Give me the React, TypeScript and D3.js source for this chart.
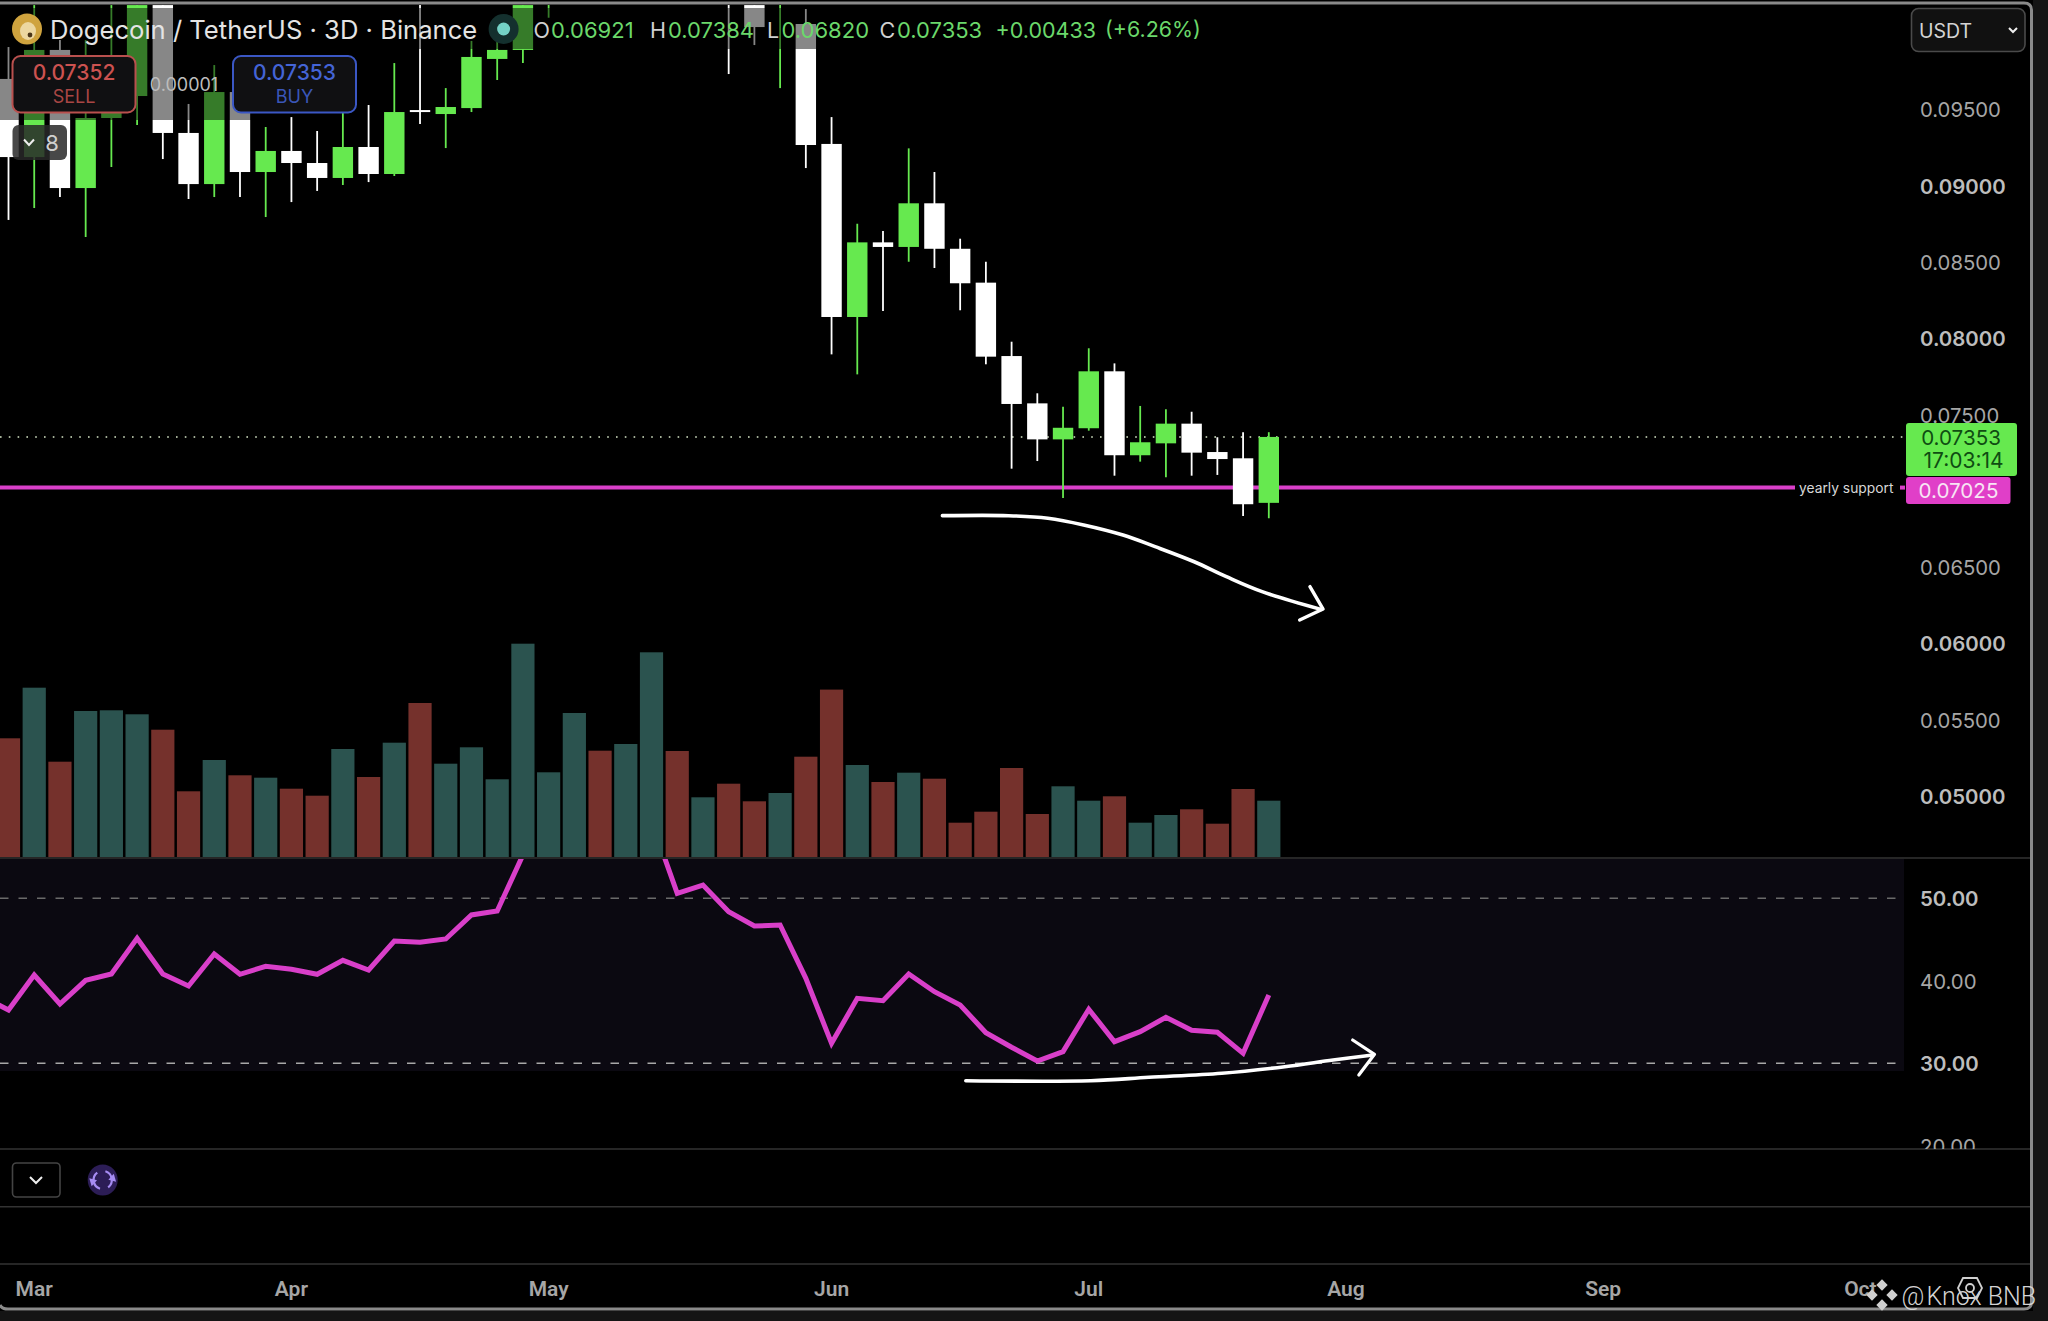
import * as d3 from 'd3';

import React, { useEffect, useRef } from 'react';

const WIDTH = 2048;
const HEIGHT = 1321;
const FONT = 'Inter, sans-serif';
const AXIS_FONT = 'Roboto, sans-serif';

// candles, in price, index 0 = first candle at the left edge (i 21-28 sit above the visible range)
const opens = [
  0.09699, 0.09187, 0.09889, 0.08984, 0.09443, 0.09587, 0.10183, 0.09345, 0.0901, 0.09613,
  0.09089, 0.09227, 0.09148, 0.0905, 0.09253, 0.09076, 0.09495, 0.09469, 0.09508, 0.0983,
  0.09889, 0.1025, 0.106, 0.11, 0.108, 0.11, 0.114, 0.111, 0.106, 0.10183,
  0.1035, 0.10059, 0.09273, 0.08139, 0.08628, 0.08598, 0.08884, 0.08586, 0.08364, 0.07883,
  0.07573, 0.07337, 0.0741, 0.07783, 0.07233, 0.07311, 0.0744, 0.07254, 0.07213, 0.06921,
];
const closes = [
  0.09187, 0.09889, 0.08984, 0.09443, 0.09626, 0.10183, 0.09345, 0.0901, 0.09613, 0.09089,
  0.09227, 0.09148, 0.0905, 0.09253, 0.09076, 0.09482, 0.09482, 0.09515, 0.09843, 0.09889,
  0.10183, 0.106, 0.11, 0.108, 0.11, 0.114, 0.111, 0.113, 0.1035, 0.10039,
  0.105, 0.09266, 0.08139, 0.08628, 0.08598, 0.08884, 0.08586, 0.0836, 0.07879, 0.07569,
  0.07337, 0.07413, 0.07783, 0.07233, 0.07318, 0.0744, 0.0725, 0.07208, 0.06912, 0.07353,
];
const highs = [
  0.09908, 0.10183, 0.09954, 0.09954, 0.10183, 0.10203, 0.10203, 0.09535, 0.0979, 0.09692,
  0.09384, 0.09449, 0.09358, 0.09476, 0.09528, 0.09803, 0.10183, 0.09639, 0.09948, 0.10085,
  0.10203, 0.108, 0.113, 0.112, 0.111, 0.116, 0.115, 0.115, 0.1075, 0.105,
  0.106, 0.10157, 0.09449, 0.0875, 0.08702, 0.09244, 0.09089, 0.08652, 0.08501, 0.07977,
  0.07639, 0.07551, 0.07934, 0.07835, 0.07556, 0.07534, 0.07518, 0.07351, 0.07383, 0.07384,
];
const lows = [
  0.08775, 0.08853, 0.08925, 0.08663, 0.09122, 0.09397, 0.09174, 0.08912, 0.08925, 0.08925,
  0.08794, 0.08892, 0.08965, 0.09004, 0.09023, 0.09063, 0.09404, 0.09246, 0.09482, 0.09692,
  0.09803, 0.101, 0.1045, 0.106, 0.106, 0.108, 0.108, 0.109, 0.09731, 0.09921,
  0.09639, 0.09115, 0.07894, 0.07763, 0.08178, 0.08501, 0.0846, 0.08183, 0.07829, 0.07145,
  0.07195, 0.06953, 0.07394, 0.07099, 0.07191, 0.07088, 0.07099, 0.07104, 0.06835, 0.0682,
];

const volumes = [
  118.7, 169.3, 95.3, 146, 146.7, 142.7, 127.3, 65.7, 97, 81.7,
  79.3, 68.3, 61.3, 108, 80, 114.3, 154, 93.3, 109.7, 77.7,
  213.3, 84.7, 144, 106.3, 113, 204.7, 106, 59.7, 73.3, 55.7,
  64, 100.3, 167.4, 92, 75, 84.3, 78.3, 34.3, 45.3, 89,
  43, 70.7, 56.3, 60.7, 34.3, 42, 47.7, 33.3, 68, 56.3,
];

// rsi[0] belongs to the candle just left of the frame (index -1)
const rsi = [
  38.07, 36.46, 40.7, 37.19, 40.06, 40.82, 45.15, 40.82, 39.37, 43.25, 40.79,
  41.76, 41.39, 40.79, 42.48, 41.31, 44.82, 44.67, 45.07, 47.98, 48.46,
  55.25, 58, 61, 60, 62, 59.37, 50.61, 51.61, 48.38, 46.64,
  46.76, 40.3, 32.42, 37.88, 37.59, 40.82, 38.68, 37.07, 33.71, 31.94,
  30.28, 31.41, 36.55, 32.62, 33.83, 35.58, 34, 33.76, 31.21, 38.28,
];

const priceTicks = [0.095, 0.09, 0.085, 0.08, 0.075, 0.07, 0.065, 0.06, 0.055, 0.05];
const boldPriceTicks = [0.09, 0.08, 0.06, 0.05];
const rsiTicks = [50, 40, 30, 20];
const boldRsiTicks = [50, 30];
const monthNames = ['Mar', 'Apr', 'May', 'Jun', 'Jul', 'Aug', 'Sep', 'Oct'];
const monthIndexes = [1, 11, 21, 32, 42, 52, 62, 72];

const lastPrice = 0.07353;
const supportPrice = 0.07025;

// hand drawn arrows: [candle index, price] and [candle index, rsi]
const priceArrow: [number, number][] = [
  [36.31, 0.06837], [38.88, 0.06837], [40.41, 0.0682], [41.8, 0.06776], [43.33, 0.0671],
  [44.58, 0.06634], [46.1, 0.06535], [47.35, 0.06437], [48.74, 0.06339], [51.03, 0.06223],
];
const priceArrowHead: [number, number][] = [[50.6, 0.06372], [51.11, 0.06225], [50.2, 0.06153]];
const rsiArrow: [number, number][] = [
  [37.22, 27.89], [42.08, 27.89], [44.34, 28.3], [47.17, 28.79], [49.62, 29.59], [51.5, 30.4], [53.05, 31.01],
];
const rsiArrowHead: [number, number][] = [[52.26, 32.82], [53.11, 31.09], [52.5, 28.58]];

const GREEN = '#66e94f';
const TEAL = '#2b534f';
const RED = '#75312c';
const PINK = '#d93fc9';

type Sel = d3.Selection<SVGGElement, unknown, null, undefined>;

const label = (
  g: Sel,
  x: number,
  y: number,
  text: string,
  fill: string,
  size: number,
  anchor = 'start',
  weight = 400,
) =>
  g
    .append('text')
    .attr('x', x)
    .attr('y', y)
    .attr('dy', '0.35em')
    .attr('fill', fill)
    .attr('font-size', size)
    .attr('font-weight', weight)
    .attr('text-anchor', anchor)
    .text(text);

export default function App() {
  const ref = useRef<SVGSVGElement>(null);

  useEffect(() => {
    const svg = d3.select(ref.current);
    svg.selectAll('*').remove();
    const root = svg.append('g').attr('font-family', FONT) as unknown as Sel;

    const x = d3.scaleLinear().domain([0, 49]).range([8.5, 1268.8]);
    const y = d3.scaleLinear().domain([0.05, 0.095]).range([796, 109.3]);
    const yVol = d3.scaleLinear().domain([0, 213.3]).range([857, 643.7]);
    const yRsi = d3.scaleLinear().domain([30, 50]).range([1063.3, 898.3]);

    const defs = svg.append('defs');
    defs.append('clipPath').attr('id', 'main').append('rect').attr('x', 0).attr('y', 5).attr('width', 1904).attr('height', 853);
    defs.append('clipPath').attr('id', 'pane').append('rect').attr('x', 0).attr('y', 859).attr('width', 1904).attr('height', 290);
    defs.append('clipPath').attr('id', 'rsiaxis').append('rect').attr('x', 1904).attr('y', 859).attr('width', 128).attr('height', 290);

    root.append('rect').attr('width', WIDTH).attr('height', HEIGHT).attr('fill', '#000');

    // rsi pane background
    root.append('rect').attr('x', 0).attr('y', 859).attr('width', 1904).attr('height', 212).attr('fill', '#0b0911');

    // volume
    const idx = d3.range(volumes.length);
    root
      .append('g')
      .selectAll('rect')
      .data(idx)
      .join('rect')
      .attr('x', (i) => x(i) - 11.6)
      .attr('width', 23.2)
      .attr('y', (i) => yVol(volumes[i]))
      .attr('height', (i) => yVol(0) - yVol(volumes[i]))
      .attr('fill', (i) => (closes[i] >= opens[i] ? TEAL : RED));

    // support and last price lines sit behind the candles
    root
      .append('line')
      .attr('x1', 0)
      .attr('x2', 1795)
      .attr('y1', y(supportPrice))
      .attr('y2', y(supportPrice))
      .attr('stroke', PINK)
      .attr('stroke-width', 4)
      .attr('transform', 'translate(0,0.6)');
    root
      .append('line')
      .attr('x1', 1900)
      .attr('x2', 1905)
      .attr('y1', y(supportPrice))
      .attr('y2', y(supportPrice))
      .attr('stroke', PINK)
      .attr('stroke-width', 4)
      .attr('transform', 'translate(0,0.6)');
    root
      .append('line')
      .attr('x1', 0)
      .attr('x2', 1903)
      .attr('y1', y(lastPrice))
      .attr('y2', y(lastPrice))
      .attr('stroke', '#d8e8c8')
      .attr('stroke-width', 1.6)
      .attr('stroke-dasharray', '1.6 7.2');

    // candles
    const candles = root.append('g').attr('clip-path', 'url(#main)');
    const color = (i: number) => (closes[i] >= opens[i] ? GREEN : '#ffffff');
    candles
      .selectAll('line')
      .data(idx)
      .join('line')
      .attr('x1', (i) => x(i))
      .attr('x2', (i) => x(i))
      .attr('y1', (i) => y(highs[i]))
      .attr('y2', (i) => y(lows[i]))
      .attr('stroke', color)
      .attr('stroke-width', 1.8);
    candles
      .selectAll('rect')
      .data(idx)
      .join('rect')
      .attr('x', (i) => x(i) - 10.2)
      .attr('width', 20.4)
      .attr('y', (i) => y(Math.max(opens[i], closes[i])))
      .attr('height', (i) => Math.max(2, Math.abs(y(opens[i]) - y(closes[i]))))
      .attr('fill', color);

    // legend backdrop dims whatever is under the header
    root.append('rect').attr('x', 0).attr('y', 8).attr('width', 830).attr('height', 41).attr('fill', '#000').attr('opacity', 0.47);
    root.append('rect').attr('x', 0).attr('y', 49).attr('width', 252).attr('height', 71).attr('fill', '#000').attr('opacity', 0.47);

    // rsi
    const pane = root.append('g').attr('clip-path', 'url(#pane)');
    [50, 30].forEach((v) => {
      pane
        .append('line')
        .attr('x1', 0)
        .attr('x2', 1900)
        .attr('y1', yRsi(v))
        .attr('y2', yRsi(v))
        .attr('stroke', v === 50 ? '#6a6a6a' : '#a8a8a8')
        .attr('stroke-width', 1.6)
        .attr('stroke-dasharray', '8.5 10');
    });
    const rsiLine = d3
      .line<number>()
      .x((_, i) => x(i - 1))
      .y((d) => yRsi(d));
    pane.append('path').attr('d', rsiLine(rsi)).attr('fill', 'none').attr('stroke', PINK).attr('stroke-width', 5).attr('stroke-linejoin', 'miter');

    // separators
    [858, 1149, 1206.7, 1264].forEach((v) => {
      root.append('line').attr('x1', 0).attr('x2', 2031).attr('y1', v).attr('y2', v).attr('stroke', '#333').attr('stroke-width', 1.6);
    });

    // axes
    const priceAxis = root
      .append('g')
      .attr('transform', 'translate(1920,1)')
      .call(d3.axisRight(y).tickValues(priceTicks).tickSize(0).tickPadding(0).tickFormat(d3.format('.5f')));
    priceAxis.select('.domain').remove();
    priceAxis
      .selectAll<SVGTextElement, number>('text')
      .attr('font-family', FONT)
      .attr('font-size', (d) => (boldPriceTicks.includes(d) ? 20.4 : 20.3))
      .attr('fill', (d) => (boldPriceTicks.includes(d) ? '#bdbdbd' : '#a6a6a6'))
      .attr('font-weight', (d) => (boldPriceTicks.includes(d) ? 600 : 400));

    const rsiAxis = root
      .append('g')
      .attr('clip-path', 'url(#rsiaxis)')
      .append('g')
      .attr('transform', 'translate(1920,1)')
      .call(d3.axisRight(yRsi).tickValues(rsiTicks).tickSize(0).tickPadding(0).tickFormat(d3.format('.2f')));
    rsiAxis.select('.domain').remove();
    rsiAxis
      .selectAll<SVGTextElement, number>('text')
      .attr('font-family', FONT)
      .attr('font-size', 20.4)
      .attr('fill', (d) => (boldRsiTicks.includes(d) ? '#bdbdbd' : '#a6a6a6'))
      .attr('font-weight', (d) => (boldRsiTicks.includes(d) ? 600 : 400));

    const timeAxis = root
      .append('g')
      .attr('transform', 'translate(-0.5,1289)')
      .call(
        d3
          .axisBottom(x)
          .tickValues(monthIndexes)
          .tickSize(0)
          .tickPadding(0)
          .tickFormat((_, i) => monthNames[i]),
      );
    timeAxis.select('.domain').remove();
    timeAxis
      .selectAll('text')
      .attr('font-family', AXIS_FONT)
      .attr('font-size', 21)
      .attr('font-weight', 600)
      .attr('fill', '#a6a6a6')
      .attr('dy', '0.35em');

    // tags at the price axis
    root.append('rect').attr('x', 1906).attr('y', 423).attr('width', 111).attr('height', 53).attr('rx', 3).attr('fill', GREEN);
    label(root, 1961, 438, '0.07353', '#0f4d12', 20.6, 'middle');
    label(root, 1963.5, 461, '17:03:14', '#0f4d12', 21, 'middle');
    root.append('rect').attr('x', 1906).attr('y', 477).attr('width', 104.5).attr('height', 27).attr('rx', 3).attr('fill', '#e03fc8');
    label(root, 1958.5, 490.5, '0.07025', '#f8e4f4', 20.6, 'middle');
    label(root, 1799, 488, 'yearly support', '#d8d8d8', 13.8);

    // hand drawn arrows
    const arrows = root.append('g').attr('fill', 'none').attr('stroke', '#fff').attr('stroke-linecap', 'round').attr('stroke-linejoin', 'round');
    const priceCurve = d3
      .line<[number, number]>()
      .x((d) => x(d[0]))
      .y((d) => y(d[1]));
    const rsiCurve = d3
      .line<[number, number]>()
      .x((d) => x(d[0]))
      .y((d) => yRsi(d[1]));
    arrows.append('path').attr('d', priceCurve.curve(d3.curveCatmullRom)(priceArrow)).attr('stroke-width', 3.6);
    arrows.append('path').attr('d', priceCurve.curve(d3.curveLinear)(priceArrowHead)).attr('stroke-width', 3.4);
    arrows.append('path').attr('d', rsiCurve.curve(d3.curveCatmullRom)(rsiArrow)).attr('stroke-width', 3.6);
    arrows.append('path').attr('d', rsiCurve.curve(d3.curveLinear)(rsiArrowHead)).attr('stroke-width', 3.2);

    // header
    const head = root.append('g');
    head.append('ellipse').attr('cx', 27).attr('cy', 29).attr('rx', 15).attr('ry', 15.5).attr('fill', '#cfa33e');
    head.append('ellipse').attr('cx', 28).attr('cy', 31).attr('rx', 8).attr('ry', 9).attr('fill', '#ecd7a0');
    head.append('circle').attr('cx', 30).attr('cy', 35).attr('r', 2.4).attr('fill', '#4a3518');
    label(head, 50, 30, 'Dogecoin / TetherUS · 3D · Binance', '#e4e4e4', 25.6);
    head.append('circle').attr('cx', 503.6).attr('cy', 29).attr('r', 15).attr('fill', '#14302e');
    head.append('circle').attr('cx', 503.6).attr('cy', 29).attr('r', 6.5).attr('fill', '#74d2c6');

    const ohlcGreen = '#6bd86b';
    const ohlcGrey = '#d0d0d0';
    label(head, 533.5, 30, 'O', ohlcGrey, 21.5);
    label(head, 551, 30, '0.06921', ohlcGreen, 22);
    label(head, 650, 30, 'H', ohlcGrey, 21.5);
    label(head, 668, 30, '0.07384', ohlcGreen, 22);
    label(head, 767, 30, 'L', ohlcGrey, 21.5);
    label(head, 781.5, 30, '0.06820', ohlcGreen, 22);
    label(head, 879.5, 30, 'C', ohlcGrey, 21.5);
    label(head, 897, 30, '0.07353', ohlcGreen, 22);
    label(head, 995.5, 30, '+0.00433', ohlcGreen, 21.5);
    label(head, 1105, 30, '(+6.26%)', ohlcGreen, 21.4);

    // buy / sell buttons
    const button = (bx: number, price: string, name: string, stroke: string, text: string, sub: string) => {
      head.append('rect').attr('x', bx).attr('y', 56).attr('width', 123).attr('height', 56.5).attr('rx', 8).attr('fill', '#101012').attr('stroke', stroke).attr('stroke-width', 2);
      label(head, bx + 61.5, 73, price, text, 21, 'middle', 500);
      label(head, bx + 61.5, 97, name, sub, 18, 'middle');
    };
    button(12.5, '0.07352', 'SELL', '#b9504e', '#cc5250', '#a84644');
    button(233, '0.07353', 'BUY', '#3b57c4', '#4464d6', '#3a56b8');
    label(head, 184, 85, '0.00001', '#bdbdbd', 18, 'middle');

    head.append('rect').attr('x', 12.5).attr('y', 125).attr('width', 54.5).attr('height', 35).attr('rx', 6).attr('fill', '#282828').attr('opacity', 0.85);
    head.append('path').attr('d', 'M24 139.5 L29 145 L34 139.5').attr('fill', 'none').attr('stroke', '#eee').attr('stroke-width', 2);
    label(head, 52, 143.5, '8', '#d0d0d0', 22, 'middle');

    // currency selector
    head.append('rect').attr('x', 1911.5).attr('y', 8.5).attr('width', 113.5).attr('height', 43).attr('rx', 7).attr('fill', '#111').attr('stroke', '#4a4a4a').attr('stroke-width', 1.6);
    label(head, 1919, 31, 'USDT', '#d4d4d4', 19.5);
    head.append('path').attr('d', 'M2009 28 L2013 32 L2017 28').attr('fill', 'none').attr('stroke', '#eee').attr('stroke-width', 2);

    // collapse button and refresh icon
    head.append('rect').attr('x', 12.5).attr('y', 1163).attr('width', 47.5).attr('height', 34).attr('rx', 4).attr('fill', 'none').attr('stroke', '#444').attr('stroke-width', 1.6);
    head.append('path').attr('d', 'M30 1177 L36 1183 L42 1177').attr('fill', 'none').attr('stroke', '#eee').attr('stroke-width', 2);
    head.append('ellipse').attr('cx', 102.7).attr('cy', 1180).attr('rx', 15).attr('ry', 15.5).attr('fill', '#2c1d56');
    const arc = d3.arc();
    [0, Math.PI].forEach((a) => {
      const refresh = head.append('g').attr('transform', `translate(102.7,1180) rotate(${(a * 180) / Math.PI})`).attr('fill', '#a68cf2');
      refresh.append('path').attr('d', arc({ innerRadius: 8, outerRadius: 10.2, startAngle: 0.3, endAngle: 2.5 }));
      refresh.append('path').attr('d', 'M9.5 -8.5 L13.5 -1 L5.5 -1.5 Z').attr('transform', 'rotate(12)');
    });

    // frame
    root.append('rect').attr('x', 2033).attr('y', 0).attr('width', 15).attr('height', HEIGHT).attr('fill', '#141414');
    root.append('rect').attr('x', 0).attr('y', 1311).attr('width', WIDTH).attr('height', 10).attr('fill', '#141414');
    root
      .append('path')
      .attr('d', 'M0 3 H2024 Q2031.5 3 2031.5 10 V1302 Q2031.5 1309 2024 1309 H8 Q2 1309 0 1305')
      .attr('fill', 'none')
      .attr('stroke', '#8a8a8a')
      .attr('stroke-width', 3);

    // watermark
    const mark = root.append('g').attr('fill', '#d0d0d0').attr('font-family', AXIS_FONT);
    [[0, -10], [-10, 0], [10, 0], [0, 10]].forEach(([dx, dy]) => {
      mark.append('rect').attr('x', 1882 + dx - 4).attr('y', 1295 + dy - 4).attr('width', 8).attr('height', 8).attr('transform', `rotate(45 ${1882 + dx} ${1295 + dy})`);
    });
    label(mark, 1901.5, 1296, '@', '#d4d4d4', 25, 'start', 300);
    label(mark, 1926.5, 1296, 'Knox BNB', '#d4d4d4', 25, 'start', 300);
    mark
      .append('path')
      .attr('d', 'M1963 1278 H1977 L1982 1288 L1977 1298 H1963 L1958 1288 Z')
      .attr('fill', 'none')
      .attr('stroke', '#d0d0d0')
      .attr('stroke-width', 1.8);
    mark.append('circle').attr('cx', 1970).attr('cy', 1288).attr('r', 4).attr('fill', 'none').attr('stroke', '#d0d0d0').attr('stroke-width', 1.8);
  }, []);

  return <svg ref={ref} width={WIDTH} height={HEIGHT} style={{ position: 'fixed', left: 0, top: 0, display: 'block' }} />;
}
